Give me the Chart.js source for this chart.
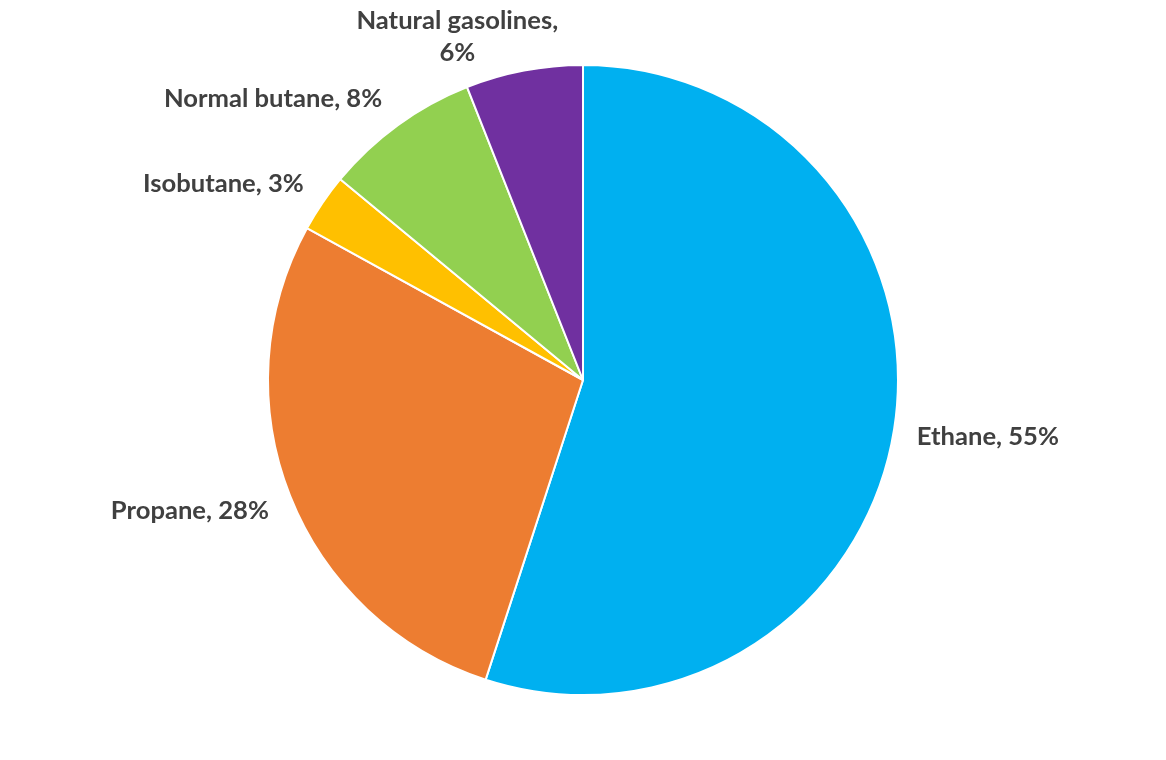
<!doctype html>
<html lang="en">
  <head>
    <meta charset="utf-8">
    <style>
      * { margin: 0; padding: 0; }
      body { background: #ffffff; }
      .chartBox { width: 1166px; height: 760px; }
    </style>
  </head>
  <body>
    <div class="chartBox">
      <canvas id="myChart"></canvas>
    </div>
    <script src="https://cdn.jsdelivr.net/npm/chart.js/dist/chart.umd.min.js"></script>
    <script>
    // data
    const gasNames = ['Ethane', 'Propane', 'Isobutane', 'Normal butane', 'Natural gasolines'];
    const gasShares = [55, 28, 3, 8, 6];
    const sliceColors = ['#00B0F0', '#ED7D31', '#FFC000', '#92D050', '#7030A0'];
    // label text lines (Natural gasolines wraps in the original)
    const labelLines = [
      ['Ethane, 55%'],
      ['Propane, 28%'],
      ['Isobutane, 3%'],
      ['Normal butane, 8%'],
      ['Natural gasolines,', '6%']
    ];

    // label placement: align + small nudges
    const labelAlign = ['left', 'right', 'right', 'right', 'center'];
    const labelNudge = [[-2, 4], [2, 6], [2, -5], [-1, -6], [-62, -9]];

    const sliceLabels = {
      id: 'sliceLabels',
      afterDatasetsDraw(chart) {
        const { ctx } = chart;
        const meta = chart.getDatasetMeta(0);
        ctx.save();
        ctx.font = 'bold 25.6px Lato';
        ctx.fillStyle = '#404040';
        ctx.textBaseline = 'middle';
        meta.data.forEach((arc, i) => {
          const { x, y, startAngle, endAngle, outerRadius } = arc.getProps(['x', 'y', 'startAngle', 'endAngle', 'outerRadius'], true);
          const mid = (startAngle + endAngle) / 2;
          const r = outerRadius + 25;
          const px = x + Math.cos(mid) * r + labelNudge[i][0];
          const py = y + Math.sin(mid) * r + labelNudge[i][1];
          const lines = labelLines[i];
          const lh = 32;
          ctx.textAlign = labelAlign[i];
          lines.forEach((t, k) => {
            ctx.fillText(t, px, py + (k - (lines.length - 1) / 2) * lh);
          });
        });
        ctx.restore();
      }
    };

    const config = {
      type: 'pie',
      data: {
        labels: gasNames,
        datasets: [{
          data: gasShares,
          backgroundColor: sliceColors,
          borderColor: '#ffffff',
          borderWidth: 2
        }]
      },
      options: {
        responsive: true,
        maintainAspectRatio: false,
        animation: false,
        layout: { padding: { top: 64, bottom: 64 } },
        plugins: {
          legend: { display: false },
          tooltip: { enabled: false }
        }
      },
      plugins: [sliceLabels]
    };

    const myChart = new Chart(document.getElementById('myChart'), config);
    </script>
  </body>
</html>
